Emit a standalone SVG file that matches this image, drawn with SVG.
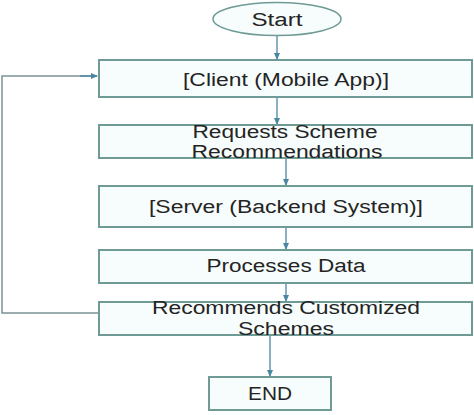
<svg xmlns="http://www.w3.org/2000/svg" width="474" height="415" viewBox="0 0 474 415">
<defs>
<marker id="ah" markerWidth="8" markerHeight="8" refX="6" refY="4" orient="auto" markerUnits="userSpaceOnUse">
<path d="M0,1 L7,4 L0,7 Z" fill="#4a87a3"/>
</marker>
<style>
.box{fill:#f7fcfc;stroke:#6f9a96;stroke-width:2}
.t{font-family:"Liberation Sans",Arial,sans-serif;font-size:18px;fill:#242424;text-anchor:middle}
.c{fill:none;stroke:#4a87a3;stroke-width:1.3}
.loop{fill:none;stroke:#7c9297;stroke-width:1.5}
</style>
</defs>
<rect width="474" height="415" fill="#ffffff"/>
<g id="connectors">
<line class="c" x1="277" y1="36" x2="277" y2="59" marker-end="url(#ah)"/>
<line class="c" x1="277" y1="98" x2="277" y2="124" marker-end="url(#ah)"/>
<line class="c" x1="286" y1="159" x2="286" y2="185" marker-end="url(#ah)"/>
<line class="c" x1="286" y1="228" x2="286" y2="249" marker-end="url(#ah)"/>
<line class="c" x1="286" y1="284" x2="286" y2="301" marker-end="url(#ah)"/>
<line class="c" x1="270" y1="336" x2="270" y2="376" marker-end="url(#ah)"/>
<polyline class="loop" points="99,313 2,313 2,76 97,76"/>
<line class="c" x1="80" y1="76" x2="97" y2="76" marker-end="url(#ah)"/>
</g>
<g id="start">
<ellipse cx="277" cy="19" rx="64" ry="16.5" fill="#f7fcfc" stroke="#6f9a96" stroke-width="1.5"/>
<text class="t" x="277" y="26" textLength="51" lengthAdjust="spacingAndGlyphs">Start</text>
</g>
<g id="client">
<rect class="box" x="99" y="60" width="373" height="37"/>
<text class="t" x="286" y="86" textLength="206" lengthAdjust="spacingAndGlyphs">[Client (Mobile App)]</text>
</g>
<g id="requests">
<rect class="box" x="99" y="125" width="373" height="33"/>
<text class="t" x="285" y="138" textLength="185" lengthAdjust="spacingAndGlyphs">Requests Scheme</text>
<text class="t" x="287" y="158" textLength="191" lengthAdjust="spacingAndGlyphs">Recommendations</text>
</g>
<g id="server">
<rect class="box" x="99" y="186" width="373" height="41"/>
<text class="t" x="286" y="213" textLength="274" lengthAdjust="spacingAndGlyphs">[Server (Backend System)]</text>
</g>
<g id="processes">
<rect class="box" x="99" y="250" width="373" height="33"/>
<text class="t" x="286" y="272" textLength="159" lengthAdjust="spacingAndGlyphs">Processes Data</text>
</g>
<g id="recommends">
<rect class="box" x="99" y="302" width="373" height="33"/>
<text class="t" x="286" y="314" textLength="268" lengthAdjust="spacingAndGlyphs">Recommends Customized</text>
<text class="t" x="286" y="335" textLength="96" lengthAdjust="spacingAndGlyphs">Schemes</text>
</g>
<g id="end">
<rect class="box" x="209" y="377" width="122" height="33"/>
<text class="t" x="270" y="400" textLength="44" lengthAdjust="spacingAndGlyphs">END</text>
</g>
</svg>
